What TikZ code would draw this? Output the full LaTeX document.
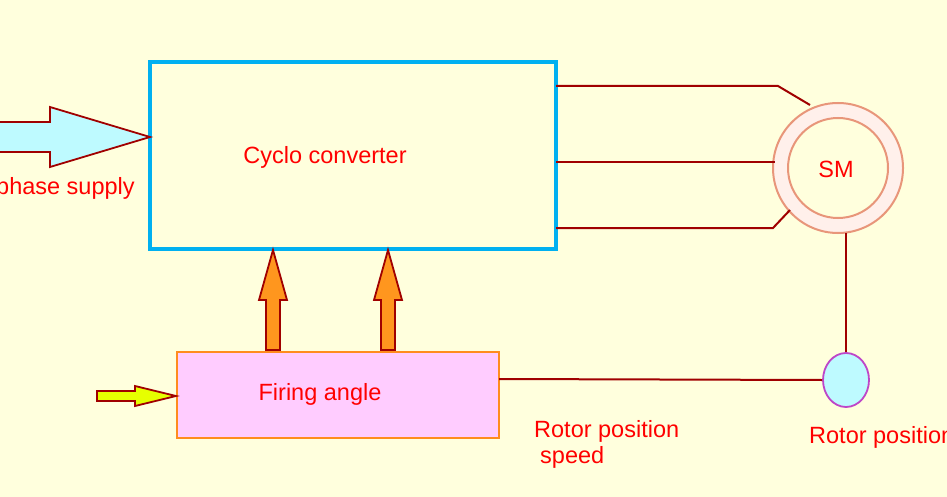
\documentclass[tikz,border=0pt]{standalone}
\usepackage{fontspec}
\setmainfont{Liberation Sans}
\usetikzlibrary{shapes.geometric}
\begin{document}
\begin{tikzpicture}[x=1pt,y=-1pt,
  lbl/.style={text=red,font=\fontsize{23.5}{28}\selectfont,inner sep=0pt},
  wire/.style={draw={rgb,255:red,160;green,0;blue,0},line width=2pt},
  arr/.style={draw={rgb,255:red,160;green,0;blue,0},line width=1.8pt,line join=miter}]
\definecolor{bg}{RGB}{255,255,221}
\fill[bg] (0,0) rectangle (947,497);
\useasboundingbox (0,0) rectangle (947,497);
% converter
\node[draw={rgb,255:red,0;green,176;blue,240},line width=3.5pt,minimum width=406pt,minimum height=187pt,inner sep=0pt] (cc) at (353,155.5) {};
\node[lbl] (cct) at (325,157) {Cyclo converter};
% input arrow
\filldraw[arr,fill={rgb,255:red,190;green,250;blue,255}] (-5,122) -- (50,122) -- (50,107) -- (150,137) -- (50,167) -- (50,152) -- (-5,152) -- cycle;
\node[lbl,anchor=west] (ps) at (-4,188) {phase supply};
% SM
\node[circle,draw={rgb,255:red,232;green,150;blue,122},fill={rgb,255:red,255;green,240;blue,235},line width=2pt,minimum size=130pt] (smo) at (838,168) {};
\node[circle,draw={rgb,255:red,232;green,150;blue,122},fill=bg,line width=2pt,minimum size=100pt] (sm) at (838,168) {};
\node[lbl] (smt) at (836,169) {SM};
\coordinate (a1) at (778,86);
\coordinate (a3) at (773,228);
\draw[wire] (556,86) -- (a1) -- (810,105);
\draw[wire] (556,162) -- (775,162);
\draw[wire] (556,228) -- (a3) -- (790,210);
% rotor sensor
\node[ellipse,draw={rgb,255:red,190;green,70;blue,200},fill={rgb,255:red,190;green,250;blue,255},line width=1.8pt,minimum width=46pt,minimum height=54pt,inner sep=0pt] (rs) at (846,380) {};
\draw[wire] (846,233) -- (rs.north);
% firing box
\node[draw={rgb,255:red,255;green,140;blue,30},fill={rgb,255:red,255;green,204;blue,255},line width=2.5pt,minimum width=322pt,minimum height=86pt,inner sep=0pt] (fa) at (338,395) {};
\node[lbl] (fat) at (320,394) {Firing angle};
\draw[wire] (499,379) -- (rs.west);
% orange arrows
\foreach \x in {273,388}{
\filldraw[arr,fill={rgb,255:red,255;green,150;blue,30}] (\x-7,350) -- (\x-7,300) -- (\x-14,300) -- (\x,250) -- (\x+14,300) -- (\x+7,300) -- (\x+7,350) -- cycle;}
% yellow arrow
\filldraw[arr,fill={rgb,255:red,230;green,255;blue,0}] (97,391) -- (135,391) -- (135,386) -- (176,396) -- (135,406) -- (135,401) -- (97,401) -- cycle;
\node[lbl,anchor=west] (rp1) at (534,431) {Rotor position};
\node[lbl,anchor=west] (rp2) at (540,457) {speed};
\node[lbl,anchor=west] (rp3) at (809,437) {Rotor position};
\end{tikzpicture}
\end{document}
